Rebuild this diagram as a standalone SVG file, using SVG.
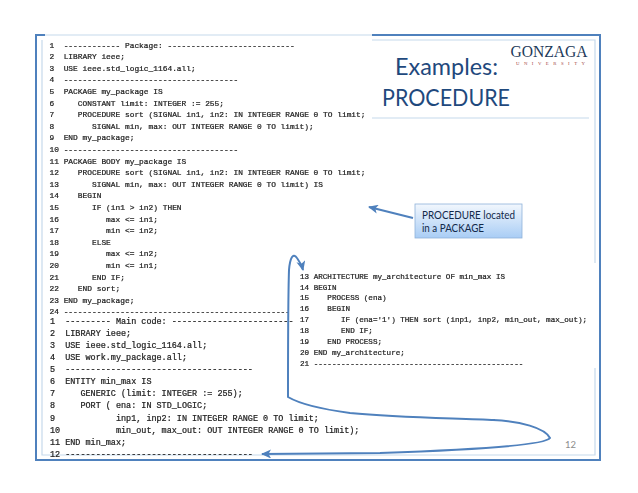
<svg xmlns="http://www.w3.org/2000/svg" width="638" height="493" viewBox="0 0 638 493">
<style>
text{white-space:pre}
.a,.b,.c{font-family:"Liberation Mono",monospace;fill:#222;stroke:#222;stroke-width:.22}
.a{font-size:7.87px}.b{font-size:8.46px}.c{font-size:7.6px}
.code{filter:url(#soft)}
.t{font-family:Lato,"Open Sans",sans-serif;font-size:24px;fill:#1f497d}
.k{font-family:Lato,"Open Sans",sans-serif;font-size:10.8px;fill:#12294a}
.f{fill:none;stroke:#4f81bd}
.l{fill:none;stroke:#c6d9ec;stroke-width:1.2}
.cn{fill:none;stroke:#4f81bd;stroke-width:2}
</style>
<defs>
<filter id="soft" x="-2%" y="-2%" width="104%" height="104%"><feGaussianBlur stdDeviation="0.3"/></filter>
<linearGradient id="g" x1="0" y1="0" x2="0" y2="1"><stop offset="0" stop-color="#f2f7fd"/><stop offset="1" stop-color="#a9cdf5"/></linearGradient>
<marker id="h" markerWidth="11" markerHeight="9" refX="9" refY="4.5" orient="auto" markerUnits="userSpaceOnUse"><path d="M0 0L10 4.5L0 9L2.5 4.5Z" fill="#4f81bd"/></marker>
</defs>
<rect width="638" height="493" fill="#fff"/>
<g id="frame">
<path class="l" d="M45 35H372M42 40V455H360M372 40H595V263M595 368V455H360M372 118H589"/>
<path class="f" stroke-width="2" d="M45 35H36V460H364"/>
<path class="f" stroke-width="2" d="M372 35H600V460H364"/>
</g>
<g id="title">
<text class="t" x="395" y="75" textLength="103" lengthAdjust="spacingAndGlyphs">Examples:</text>
<text class="t" x="382" y="106" textLength="128" lengthAdjust="spacingAndGlyphs">PROCEDURE</text>
</g>
<g id="logo">
<text x="549" y="56.5" text-anchor="middle" font-family="Liberation Serif,serif" font-size="16" fill="#1d3a5a" textLength="77" lengthAdjust="spacingAndGlyphs">GONZAGA</text>
<text x="516" y="64.5" font-family="Liberation Serif,serif" font-size="4.8" fill="#a5483f" textLength="69">UNIVERSITY</text>
</g>
<g id="package-code" class="code">
<text class="a" x="49.5" y="47.5">1  ------------ Package: ---------------------------</text>
<text class="a" x="49.5" y="59.1">2  LIBRARY ieee;</text>
<text class="a" x="49.5" y="70.7">3  USE ieee.std_logic_1164.all;</text>
<text class="a" x="49.5" y="82.3">4  -------------------------------------</text>
<text class="a" x="49.5" y="93.9">5  PACKAGE my_package IS</text>
<text class="a" x="49.5" y="105.5">6     CONSTANT limit: INTEGER := 255;</text>
<text class="a" x="49.5" y="117.1">7     PROCEDURE sort (SIGNAL in1, in2: IN INTEGER RANGE 0 TO limit;</text>
<text class="a" x="49.5" y="128.7">8        SIGNAL min, max: OUT INTEGER RANGE 0 TO limit);</text>
<text class="a" x="49.5" y="140.3">9  END my_package;</text>
<text class="a" x="49.5" y="151.9">10 -------------------------------------</text>
<text class="a" x="49.5" y="163.5">11 PACKAGE BODY my_package IS</text>
<text class="a" x="49.5" y="175.1">12    PROCEDURE sort (SIGNAL in1, in2: IN INTEGER RANGE 0 TO limit;</text>
<text class="a" x="49.5" y="186.7">13       SIGNAL min, max: OUT INTEGER RANGE 0 TO limit) IS</text>
<text class="a" x="49.5" y="198.3">14    BEGIN</text>
<text class="a" x="49.5" y="209.9">15       IF (in1 &gt; in2) THEN</text>
<text class="a" x="49.5" y="221.5">16          max &lt;= in1;</text>
<text class="a" x="49.5" y="233.1">17          min &lt;= in2;</text>
<text class="a" x="49.5" y="244.7">18       ELSE</text>
<text class="a" x="49.5" y="256.3">19          max &lt;= in2;</text>
<text class="a" x="49.5" y="267.9">20          min &lt;= in1;</text>
<text class="a" x="49.5" y="279.5">21       END IF;</text>
<text class="a" x="49.5" y="291.1">22    END sort;</text>
<text class="a" x="49.5" y="302.7">23 END my_package;</text>
<text class="a" x="49.5" y="314.3">24 ------------------------------------------------</text>
</g>
<g id="main-code" class="code">
<text class="b" x="50" y="323.7">1  --------- Main code: ------------------------</text>
<text class="b" x="50" y="335.8">2  LIBRARY ieee;</text>
<text class="b" x="50" y="347.9">3  USE ieee.std_logic_1164.all;</text>
<text class="b" x="50" y="360">4  USE work.my_package.all;</text>
<text class="b" x="50" y="372.1">5  -------------------------------------</text>
<text class="b" x="50" y="384.2">6  ENTITY min_max IS</text>
<text class="b" x="50" y="396.3">7     GENERIC (limit: INTEGER := 255);</text>
<text class="b" x="50" y="408.4">8     PORT ( ena: IN STD_LOGIC;</text>
<text class="b" x="50" y="420.5">9            inp1, inp2: IN INTEGER RANGE 0 TO limit;</text>
<text class="b" x="50" y="432.6">10           min_out, max_out: OUT INTEGER RANGE 0 TO limit);</text>
<text class="b" x="50" y="444.7">11 END min_max;</text>
<text class="b" x="50" y="456.8">12 -------------------------------------</text>
</g>
<g id="architecture-code" class="code">
<text class="c" x="300" y="278.5">13 ARCHITECTURE my_architecture OF min_max IS</text>
<text class="c" x="300" y="289.5">14 BEGIN</text>
<text class="c" x="300" y="300.4">15    PROCESS (ena)</text>
<text class="c" x="300" y="311.4">16    BEGIN</text>
<text class="c" x="300" y="322.3">17       IF (ena='1') THEN sort (inp1, inp2, min_out, max_out);</text>
<text class="c" x="300" y="333.3">18       END IF;</text>
<text class="c" x="300" y="344.3">19    END PROCESS;</text>
<text class="c" x="300" y="355.2">20 END my_architecture;</text>
<text class="c" x="300" y="366.2">21 ----------------------------------------------</text>
</g>
<g id="callout">
<rect x="415" y="204" width="107" height="34" fill="url(#g)" stroke="#8fb2d9" stroke-width=".8"/>
<text class="k" x="422" y="219" textLength="93" lengthAdjust="spacingAndGlyphs">PROCEDURE located</text>
<text class="k" x="422" y="232" textLength="62" lengthAdjust="spacingAndGlyphs">in a PACKAGE</text>
</g>
<g id="connectors">
<path class="cn" marker-end="url(#h)" d="M413 218L369 207"/>
<path class="cn" marker-end="url(#h)" d="M495 420C455 418 400 418 350 413C320 409 300 404 288 397C288 350 288 300 289 270C290 258 293 252 297 258C300 262 302 266 303 270"/>
<path class="cn" marker-end="url(#h)" d="M493 420C520 421 545 428 550 438C545 445 470 450 380 453L262 454"/>
</g>
<g id="page-number"><text x="565" y="448" font-family="Lato,sans-serif" font-size="9.5" fill="#8c8c8c">12</text></g>
</svg>
